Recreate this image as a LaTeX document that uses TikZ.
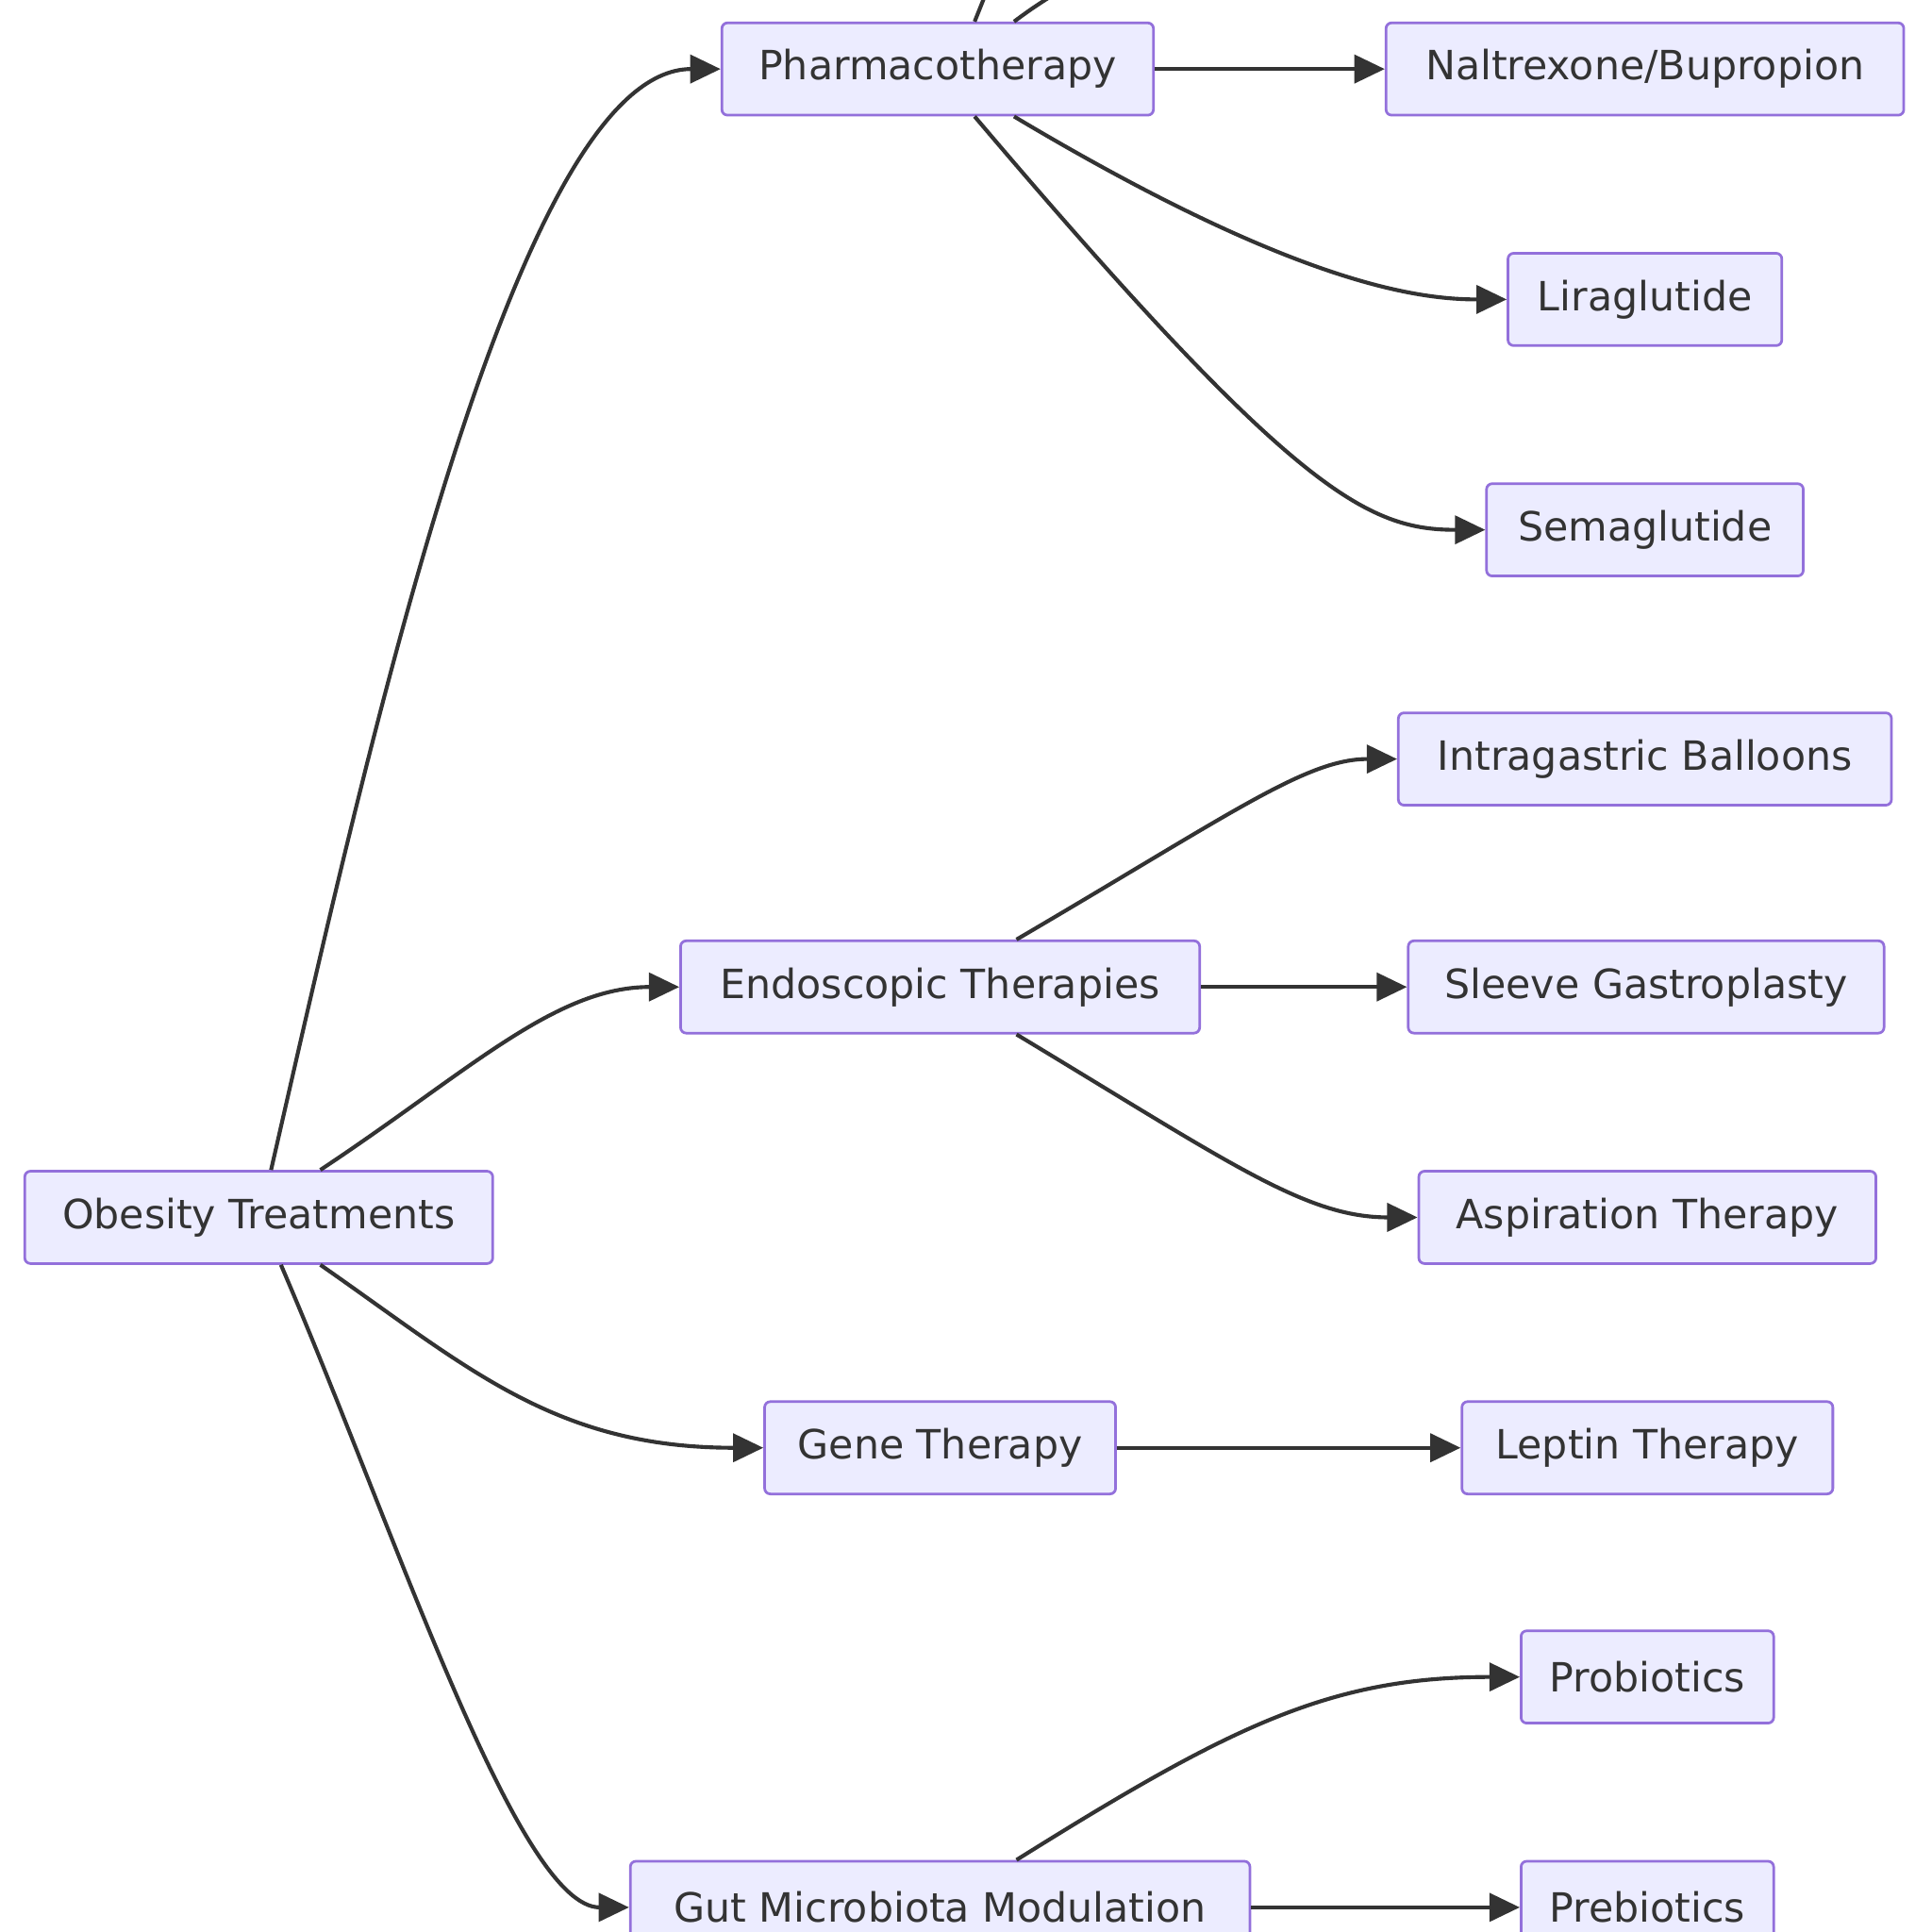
\documentclass[tikz,border=0pt]{standalone}
\usepackage{fontspec}
\setmainfont{DejaVu Sans}
\usetikzlibrary{arrows.meta,calc}
\begin{document}
\begin{tikzpicture}[x=0.01cm,y=-0.01cm,
 box/.style={draw=mpurple,fill=mfill,line width=0.6pt,rounded corners=1.3pt,minimum height=21.3pt,inner xsep=0pt,font=\fontsize{9.3}{11}\selectfont,text=mtext},
 ed/.style={draw=mline,line width=0.9pt,-{Triangle[length=7pt,width=6.5pt]}},
 ln/.style={draw=mline,line width=0.9pt}]
\definecolor{mpurple}{HTML}{9370DB}
\definecolor{mfill}{HTML}{ECECFF}
\definecolor{mline}{HTML}{333333}
\definecolor{mtext}{HTML}{333333}
\useasboundingbox[fill=white] (0,0) rectangle (1568,1568);
\node[box,minimum width=108pt] (ob) at (210,988) {Obesity Treatments};
\node[box,minimum width=99.6pt] (ph) at (761,56) {Pharmacotherapy};
\node[box,minimum width=119.8pt] (en) at (763,801) {Endoscopic Therapies};
\node[box,minimum width=81pt] (ge) at (763,1175) {Gene Therapy};
\node[box,minimum width=143pt] (gu) at (763,1548) {Gut Microbiota Modulation};
\node[box,minimum width=119.5pt] (na) at (1335,56) {Naltrexone/Bupropion};
\node[box,minimum width=63.2pt] (li) at (1335,243) {Liraglutide};
\node[box,minimum width=73.1pt] (se) at (1335,430) {Semaglutide};
\node[box,minimum width=113.8pt] (ib) at (1335,616) {Intragastric Balloons};
\node[box,minimum width=109.8pt] (sg) at (1336,801) {Sleeve Gastroplasty};
\node[box,minimum width=105.5pt] (at) at (1337,988) {Aspiration Therapy};
\node[box,minimum width=85.6pt] (lt) at (1337,1175) {Leptin Therapy};
\node[box,minimum width=58.3pt] (pr) at (1337,1361) {Probiotics};
\node[box,minimum width=58.3pt] (pb) at (1337,1548) {Prebiotics};
\coordinate (u1) at (810,-30);
\coordinate (u2) at (880,-20);
% from Obesity
\draw[ed] ($(ob.north)+(10,0)$) .. controls (300,600) and (420,56) .. (ph.west);
\draw[ed] ($(ob.north)+(50,0)$) .. controls (380,870) and (450,801) .. (en.west);
\draw[ed] ($(ob.south)+(50,0)$) .. controls (380,1110) and (450,1175) .. (ge.west);
\draw[ed] ($(ob.south)+(18,0)$) .. controls (320,1240) and (420,1548) .. (gu.west);
% Pharmacotherapy
\draw[ln] ($(ph.north)+(30,0)$) -- (u1);
\draw[ln] ($(ph.north)+(62,0)$) .. controls (840,5) .. (u2);
\draw[ed] (ph.east) -- (na.west);
\draw[ed] ($(ph.south)+(62,0)$) .. controls (1050,230) and (1150,243) .. (li.west);
\draw[ed] ($(ph.south)+(30,0)$) .. controls (1050,400) and (1110,430) .. (se.west);
% Endoscopic
\draw[ed] ($(en.north)+(62,0)$) .. controls (1000,660) and (1060,616) .. (ib.west);
\draw[ed] (en.east) -- (sg.west);
\draw[ed] ($(en.south)+(62,0)$) .. controls (1000,945) and (1060,988) .. (at.west);
\draw[ed] (ge.east) -- (lt.west);
\draw[ed] ($(gu.north)+(62,0)$) .. controls (1000,1400) and (1080,1361) .. (pr.west);
\draw[ed] (gu.east) -- (pb.west);
\end{tikzpicture}
\end{document}
